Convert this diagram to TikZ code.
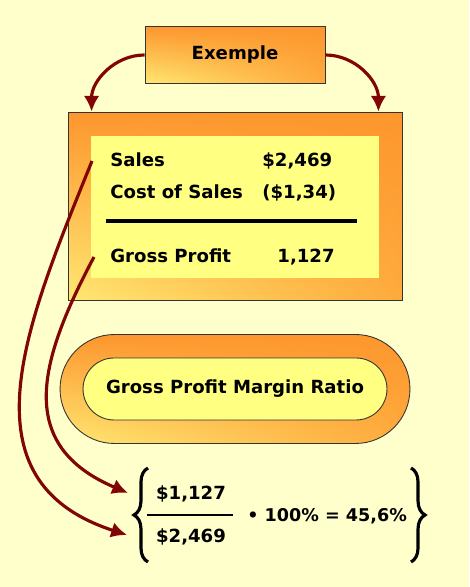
\documentclass[tikz,border=0pt]{standalone}
\usepackage{fontspec}
\setmainfont{DejaVu Sans}
\usetikzlibrary{arrows.meta,shadings,decorations.pathreplacing}
\definecolor{paper}{RGB}{255,255,204}
\definecolor{deeporange}{RGB}{253,150,45}
\definecolor{midorange}{RGB}{254,170,60}
\definecolor{paleorange}{RGB}{255,232,115}
\definecolor{lemon}{RGB}{255,255,130}
\definecolor{arrowred}{RGB}{130,5,5}

\begin{document}
\begin{tikzpicture}[x=0.02cm,y=0.02cm,>={Latex[length=9pt,width=9pt]},
  box/.style={draw=black!80,line width=0.5pt,upper left=deeporange,upper right=deeporange,
    lower right=midorange,lower left=paleorange},
  entry/.style={font=\fontsize{10.3}{12}\selectfont,inner sep=0pt},
  link/.style={->,draw=arrowred,line width=1.8pt}]
  \tikzstyle{rule} = [line width=1.9pt]
  \tikzstyle{curly} = [decorate,decoration={brace,amplitude=8pt},line width=1.8pt]

  \useasboundingbox[fill=paper] (0,0) rectangle (469,587);

  \node[box,entry,minimum width=3.6cm,minimum height=1.14cm] (EXEMPLE) at (235,532) {\bf Exemple};
  \node[box,minimum width=6.68cm,minimum height=3.76cm] (OUTER) at (235,381) {};
  \node[fill=lemon,minimum width=5.76cm,minimum height=2.84cm] (INNER) at (235,380) {};

  \node[entry,anchor=base west] (SALES)    at (110,420) {\bf Sales};
  \node[entry,anchor=base west] (SALESVAL) at (262,420) {\bf \$2,469};
  \node[entry,anchor=base west] (COST)     at (110,388) {\bf Cost of Sales};
  \node[entry,anchor=base west] (COSTVAL)  at (262,388) {\bf (\$1,34)};
  \node[entry,anchor=base west] (GROSS)    at (110,324) {\bf Gross Profit};
  \node[entry,anchor=base east] (GROSSVAL) at (335,324) {\bf 1,127};
  \draw[rule] (106,366) -- (357,366);

  \node[box,minimum width=7cm,minimum height=2.18cm,rounded corners=1.09cm] (RATIO) at (235,198) {};
  \node[entry,draw=black!80,line width=0.5pt,fill=lemon,minimum width=6.08cm,minimum height=1.24cm,
    rounded corners=0.62cm] (RATIOIN) at (235,198) {\bf Gross Profit Margin Ratio};

  \node[entry,anchor=base] (NUM) at (191,87) {\bf \$1,127};
  \node[entry,anchor=base] (DEN) at (191,44) {\bf \$2,469};
  \draw[rule,line width=1.6pt] (147,72) -- (233,72);
  \node[entry,anchor=base west,font=\fontsize{10}{12}\selectfont] (RESULT) at (247,65) {\bf • 100\% = 45,6\%};
  \draw[curly] (148,25) -- (148,119);
  \draw[curly] (411,119) -- (411,25);

  \coordinate (SALESOUT) at (92,426);
  \coordinate (GROSSOUT) at (94,330);
  \coordinate (DENIN) at (127,52);
  \coordinate (NUMIN) at (128,94);
  \draw[link] (SALESOUT) to[out=248,in=162,looseness=1.2] (DENIN);
  \draw[link] (GROSSOUT) to[out=242,in=157,looseness=1.3] (NUMIN);
  \draw[link] (EXEMPLE.west) to[out=180,in=90] ([xshift=0.48cm]OUTER.north west);
  \draw[link] (EXEMPLE.east) to[out=0,in=90] ([xshift=-0.48cm]OUTER.north east);
\end{tikzpicture}
\end{document}
